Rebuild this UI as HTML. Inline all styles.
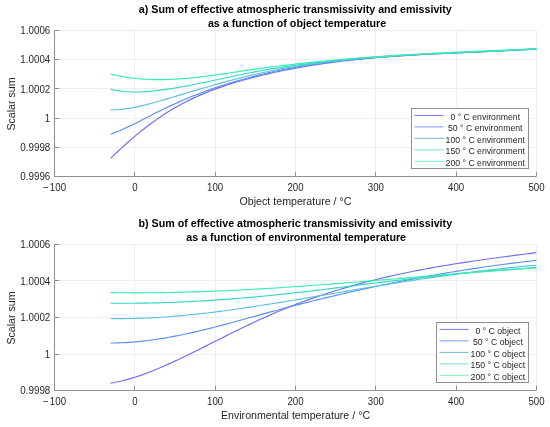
<!DOCTYPE html>
<html><head><meta charset="utf-8"><style>
html,body{margin:0;padding:0;background:#fff;}
svg text{font-family:"Liberation Sans",Arial,Helvetica,sans-serif;}
</style></head><body>
<svg width="550" height="427" viewBox="0 0 550 427" style="display:block">
<rect width="550" height="427" fill="#fff"/>
<path d="M54.5,30.5V176.5M134.5,30.5V176.5M215.5,30.5V176.5M295.5,30.5V176.5M375.5,30.5V176.5M456.5,30.5V176.5M536.5,30.5V176.5M54.5,176.5H536.5M54.5,147.5H536.5M54.5,118.5H536.5M54.5,88.5H536.5M54.5,59.5H536.5M54.5,30.5H536.5" stroke="#eeeeee" stroke-width="1" fill="none"/>
<path d="M110.60,158.33 L114.18,154.89 L117.75,151.51 L121.33,148.19 L124.91,144.95 L128.49,141.77 L132.06,138.67 L135.64,135.64 L139.22,132.68 L142.80,129.81 L146.37,127.01 L149.95,124.30 L153.53,121.67 L157.11,119.13 L160.68,116.67 L164.26,114.31 L167.84,112.03 L171.41,109.85 L174.99,107.74 L178.57,105.72 L182.15,103.78 L185.72,101.91 L189.30,100.12 L192.88,98.39 L196.46,96.74 L200.03,95.15 L203.61,93.63 L207.19,92.16 L210.76,90.75 L214.34,89.40 L217.92,88.09 L221.50,86.84 L225.07,85.63 L228.65,84.47 L232.23,83.35 L235.81,82.27 L239.38,81.22 L242.96,80.21 L246.54,79.22 L250.12,78.27 L253.69,77.34 L257.27,76.43 L260.85,75.55 L264.42,74.69 L268.00,73.86 L271.58,73.04 L275.16,72.26 L278.73,71.49 L282.31,70.74 L285.89,70.02 L289.47,69.32 L293.04,68.64 L296.62,67.98 L300.20,67.34 L303.77,66.72 L307.35,66.11 L310.93,65.53 L314.51,64.96 L318.08,64.42 L321.66,63.89 L325.24,63.37 L328.82,62.88 L332.39,62.40 L335.97,61.93 L339.55,61.48 L343.13,61.05 L346.70,60.63 L350.28,60.23 L353.86,59.84 L357.43,59.46 L361.01,59.10 L364.59,58.75 L368.17,58.41 L371.74,58.08 L375.32,57.76 L378.90,57.46 L382.48,57.17 L386.05,56.88 L389.63,56.61 L393.21,56.34 L396.78,56.09 L400.36,55.84 L403.94,55.60 L407.52,55.37 L411.09,55.15 L414.67,54.94 L418.25,54.73 L421.83,54.53 L425.40,54.33 L428.98,54.14 L432.56,53.95 L436.14,53.77 L439.71,53.59 L443.29,53.42 L446.87,53.25 L450.44,53.08 L454.02,52.92 L457.60,52.76 L461.18,52.60 L464.75,52.44 L468.33,52.29 L471.91,52.13 L475.49,51.97 L479.06,51.82 L482.64,51.66 L486.22,51.50 L489.79,51.35 L493.37,51.19 L496.95,51.02 L500.53,50.86 L504.10,50.69 L507.68,50.52 L511.26,50.35 L514.84,50.17 L518.41,49.98 L521.99,49.80 L525.57,49.60 L529.15,49.40 L532.72,49.20 L536.30,48.99" stroke="#6e6ef2" stroke-width="1.15" fill="none"/>
<path d="M110.60,134.24 L114.18,132.90 L117.75,131.46 L121.33,129.94 L124.91,128.34 L128.49,126.68 L132.06,124.97 L135.64,123.21 L139.22,121.42 L142.80,119.60 L146.37,117.77 L149.95,115.93 L153.53,114.10 L157.11,112.29 L160.68,110.50 L164.26,108.75 L167.84,107.03 L171.41,105.36 L174.99,103.72 L178.57,102.12 L182.15,100.56 L185.72,99.04 L189.30,97.55 L192.88,96.09 L196.46,94.68 L200.03,93.29 L203.61,91.94 L207.19,90.62 L210.76,89.34 L214.34,88.09 L217.92,86.87 L221.50,85.68 L225.07,84.53 L228.65,83.40 L232.23,82.30 L235.81,81.23 L239.38,80.20 L242.96,79.18 L246.54,78.20 L250.12,77.25 L253.69,76.32 L257.27,75.41 L260.85,74.54 L264.42,73.69 L268.00,72.86 L271.58,72.06 L275.16,71.28 L278.73,70.52 L282.31,69.79 L285.89,69.08 L289.47,68.39 L293.04,67.73 L296.62,67.09 L300.20,66.46 L303.77,65.86 L307.35,65.28 L310.93,64.71 L314.51,64.17 L318.08,63.64 L321.66,63.14 L325.24,62.65 L328.82,62.17 L332.39,61.72 L335.97,61.28 L339.55,60.85 L343.13,60.45 L346.70,60.05 L350.28,59.67 L353.86,59.31 L357.43,58.96 L361.01,58.62 L364.59,58.29 L368.17,57.98 L371.74,57.68 L375.32,57.39 L378.90,57.11 L382.48,56.85 L386.05,56.59 L389.63,56.34 L393.21,56.10 L396.78,55.87 L400.36,55.65 L403.94,55.43 L407.52,55.23 L411.09,55.03 L414.67,54.83 L418.25,54.64 L421.83,54.46 L425.40,54.28 L428.98,54.11 L432.56,53.94 L436.14,53.78 L439.71,53.62 L443.29,53.46 L446.87,53.30 L450.44,53.15 L454.02,53.00 L457.60,52.85 L461.18,52.70 L464.75,52.55 L468.33,52.39 L471.91,52.24 L475.49,52.09 L479.06,51.94 L482.64,51.78 L486.22,51.62 L489.79,51.46 L493.37,51.29 L496.95,51.12 L500.53,50.95 L504.10,50.77 L507.68,50.59 L511.26,50.40 L514.84,50.20 L518.41,50.00 L521.99,49.79 L525.57,49.58 L529.15,49.35 L532.72,49.12 L536.30,48.88" stroke="#5a8ef0" stroke-width="1.15" fill="none"/>
<path d="M110.60,109.84 L114.18,109.80 L117.75,109.62 L121.33,109.33 L124.91,108.92 L128.49,108.41 L132.06,107.81 L135.64,107.12 L139.22,106.35 L142.80,105.52 L146.37,104.63 L149.95,103.69 L153.53,102.71 L157.11,101.71 L160.68,100.68 L164.26,99.64 L167.84,98.59 L171.41,97.54 L174.99,96.48 L178.57,95.42 L182.15,94.36 L185.72,93.29 L189.30,92.23 L192.88,91.17 L196.46,90.11 L200.03,89.05 L203.61,88.00 L207.19,86.96 L210.76,85.93 L214.34,84.90 L217.92,83.89 L221.50,82.88 L225.07,81.89 L228.65,80.92 L232.23,79.96 L235.81,79.02 L239.38,78.09 L242.96,77.19 L246.54,76.30 L250.12,75.44 L253.69,74.60 L257.27,73.79 L260.85,72.99 L264.42,72.22 L268.00,71.47 L271.58,70.75 L275.16,70.04 L278.73,69.35 L282.31,68.69 L285.89,68.04 L289.47,67.41 L293.04,66.81 L296.62,66.22 L300.20,65.65 L303.77,65.09 L307.35,64.56 L310.93,64.04 L314.51,63.54 L318.08,63.06 L321.66,62.59 L325.24,62.13 L328.82,61.69 L332.39,61.27 L335.97,60.86 L339.55,60.47 L343.13,60.09 L346.70,59.72 L350.28,59.36 L353.86,59.02 L357.43,58.69 L361.01,58.37 L364.59,58.06 L368.17,57.76 L371.74,57.48 L375.32,57.20 L378.90,56.93 L382.48,56.68 L386.05,56.43 L389.63,56.19 L393.21,55.96 L396.78,55.73 L400.36,55.51 L403.94,55.30 L407.52,55.10 L411.09,54.90 L414.67,54.71 L418.25,54.53 L421.83,54.35 L425.40,54.17 L428.98,54.00 L432.56,53.83 L436.14,53.67 L439.71,53.50 L443.29,53.35 L446.87,53.19 L450.44,53.03 L454.02,52.88 L457.60,52.73 L461.18,52.58 L464.75,52.43 L468.33,52.28 L471.91,52.12 L475.49,51.97 L479.06,51.82 L482.64,51.66 L486.22,51.51 L489.79,51.35 L493.37,51.18 L496.95,51.02 L500.53,50.85 L504.10,50.68 L507.68,50.50 L511.26,50.32 L514.84,50.13 L518.41,49.94 L521.99,49.74 L525.57,49.54 L529.15,49.32 L532.72,49.11 L536.30,48.88" stroke="#5cc0e0" stroke-width="1.15" fill="none"/>
<path d="M110.60,89.34 L114.18,90.07 L117.75,90.67 L121.33,91.15 L124.91,91.51 L128.49,91.76 L132.06,91.90 L135.64,91.95 L139.22,91.91 L142.80,91.78 L146.37,91.58 L149.95,91.31 L153.53,90.98 L157.11,90.59 L160.68,90.15 L164.26,89.67 L167.84,89.15 L171.41,88.60 L174.99,88.02 L178.57,87.42 L182.15,86.78 L185.72,86.13 L189.30,85.45 L192.88,84.76 L196.46,84.04 L200.03,83.31 L203.61,82.57 L207.19,81.82 L210.76,81.06 L214.34,80.30 L217.92,79.53 L221.50,78.76 L225.07,77.99 L228.65,77.22 L232.23,76.45 L235.81,75.70 L239.38,74.95 L242.96,74.21 L246.54,73.49 L250.12,72.78 L253.69,72.09 L257.27,71.42 L260.85,70.77 L264.42,70.13 L268.00,69.51 L271.58,68.90 L275.16,68.31 L278.73,67.74 L282.31,67.18 L285.89,66.64 L289.47,66.11 L293.04,65.59 L296.62,65.09 L300.20,64.61 L303.77,64.14 L307.35,63.68 L310.93,63.23 L314.51,62.80 L318.08,62.38 L321.66,61.97 L325.24,61.57 L328.82,61.19 L332.39,60.81 L335.97,60.45 L339.55,60.10 L343.13,59.76 L346.70,59.43 L350.28,59.11 L353.86,58.79 L357.43,58.49 L361.01,58.20 L364.59,57.91 L368.17,57.64 L371.74,57.37 L375.32,57.11 L378.90,56.86 L382.48,56.61 L386.05,56.37 L389.63,56.14 L393.21,55.91 L396.78,55.69 L400.36,55.48 L403.94,55.27 L407.52,55.07 L411.09,54.87 L414.67,54.68 L418.25,54.49 L421.83,54.30 L425.40,54.12 L428.98,53.94 L432.56,53.77 L436.14,53.60 L439.71,53.43 L443.29,53.26 L446.87,53.10 L450.44,52.93 L454.02,52.77 L457.60,52.61 L461.18,52.45 L464.75,52.29 L468.33,52.14 L471.91,51.98 L475.49,51.82 L479.06,51.66 L482.64,51.50 L486.22,51.34 L489.79,51.17 L493.37,51.01 L496.95,50.84 L500.53,50.67 L504.10,50.50 L507.68,50.32 L511.26,50.15 L514.84,49.96 L518.41,49.78 L521.99,49.59 L525.57,49.40 L529.15,49.20 L532.72,48.99 L536.30,48.78" stroke="#34d6c6" stroke-width="1.15" fill="none"/>
<path d="M110.60,74.07 L114.18,74.92 L117.75,75.69 L121.33,76.39 L124.91,77.01 L128.49,77.56 L132.06,78.04 L135.64,78.45 L139.22,78.79 L142.80,79.08 L146.37,79.30 L149.95,79.46 L153.53,79.57 L157.11,79.62 L160.68,79.62 L164.26,79.58 L167.84,79.48 L171.41,79.34 L174.99,79.16 L178.57,78.94 L182.15,78.69 L185.72,78.40 L189.30,78.07 L192.88,77.72 L196.46,77.33 L200.03,76.93 L203.61,76.49 L207.19,76.04 L210.76,75.57 L214.34,75.08 L217.92,74.58 L221.50,74.07 L225.07,73.55 L228.65,73.02 L232.23,72.49 L235.81,71.96 L239.38,71.42 L242.96,70.89 L246.54,70.37 L250.12,69.85 L253.69,69.34 L257.27,68.84 L260.85,68.35 L264.42,67.86 L268.00,67.39 L271.58,66.93 L275.16,66.47 L278.73,66.03 L282.31,65.59 L285.89,65.16 L289.47,64.74 L293.04,64.33 L296.62,63.93 L300.20,63.53 L303.77,63.14 L307.35,62.76 L310.93,62.39 L314.51,62.02 L318.08,61.67 L321.66,61.32 L325.24,60.97 L328.82,60.64 L332.39,60.31 L335.97,59.98 L339.55,59.67 L343.13,59.36 L346.70,59.06 L350.28,58.76 L353.86,58.47 L357.43,58.18 L361.01,57.90 L364.59,57.63 L368.17,57.36 L371.74,57.10 L375.32,56.84 L378.90,56.59 L382.48,56.35 L386.05,56.10 L389.63,55.87 L393.21,55.64 L396.78,55.41 L400.36,55.19 L403.94,54.97 L407.52,54.75 L411.09,54.54 L414.67,54.34 L418.25,54.13 L421.83,53.94 L425.40,53.74 L428.98,53.55 L432.56,53.36 L436.14,53.18 L439.71,52.99 L443.29,52.82 L446.87,52.64 L450.44,52.47 L454.02,52.30 L457.60,52.13 L461.18,51.96 L464.75,51.80 L468.33,51.64 L471.91,51.48 L475.49,51.32 L479.06,51.17 L482.64,51.01 L486.22,50.86 L489.79,50.71 L493.37,50.56 L496.95,50.41 L500.53,50.26 L504.10,50.11 L507.68,49.97 L511.26,49.82 L514.84,49.68 L518.41,49.53 L521.99,49.39 L525.57,49.24 L529.15,49.10 L532.72,48.95 L536.30,48.81" stroke="#34eeb2" stroke-width="1.15" fill="none"/>
<path d="M54.5,30.5V176.5H536.5M54.5,176.5v-4.8M134.5,176.5v-4.8M215.5,176.5v-4.8M295.5,176.5v-4.8M375.5,176.5v-4.8M456.5,176.5v-4.8M536.5,176.5v-4.8M54.5,176.5h4.8M54.5,147.5h4.8M54.5,118.5h4.8M54.5,88.5h4.8M54.5,59.5h4.8M54.5,30.5h4.8" stroke="#8f8f8f" stroke-width="1" fill="none"/>
<text transform="translate(50.3,180.10) scale(0.98,1)" text-anchor="end" font-size="10.0" fill="#262626">0.9996</text>
<text transform="translate(50.3,150.90) scale(0.98,1)" text-anchor="end" font-size="10.0" fill="#262626">0.9998</text>
<text transform="translate(50.3,121.70) scale(0.98,1)" text-anchor="end" font-size="10.0" fill="#262626">1</text>
<text transform="translate(50.3,92.50) scale(0.98,1)" text-anchor="end" font-size="10.0" fill="#262626">1.0002</text>
<text transform="translate(50.3,63.30) scale(0.98,1)" text-anchor="end" font-size="10.0" fill="#262626">1.0004</text>
<text transform="translate(50.3,34.10) scale(0.98,1)" text-anchor="end" font-size="10.0" fill="#262626">1.0006</text>
<text transform="translate(54.50,190.60) scale(0.94,1)" text-anchor="middle" font-size="10.3" fill="#262626">−<tspan dx="1.3">100</tspan></text>
<text transform="translate(134.83,190.60) scale(0.94,1)" text-anchor="middle" font-size="10.3" fill="#262626">0</text>
<text transform="translate(215.17,190.60) scale(0.94,1)" text-anchor="middle" font-size="10.3" fill="#262626">100</text>
<text transform="translate(295.50,190.60) scale(0.94,1)" text-anchor="middle" font-size="10.3" fill="#262626">200</text>
<text transform="translate(375.83,190.60) scale(0.94,1)" text-anchor="middle" font-size="10.3" fill="#262626">300</text>
<text transform="translate(456.17,190.60) scale(0.94,1)" text-anchor="middle" font-size="10.3" fill="#262626">400</text>
<text transform="translate(536.50,190.60) scale(0.94,1)" text-anchor="middle" font-size="10.3" fill="#262626">500</text>
<text x="295.50" y="204.80" text-anchor="middle" font-size="10.65" fill="#262626">Object temperature / °C</text>
<text transform="translate(14.8,104.00) rotate(-90)" text-anchor="middle" font-size="10.65" fill="#262626">Scalar sum</text>
<text x="295.30" y="12.70" text-anchor="middle" font-size="10.7" font-weight="bold" fill="#000">a) Sum of effective atmospheric transmissivity and emissivity</text>
<text x="297.00" y="26.60" text-anchor="middle" font-size="10.7" font-weight="bold" fill="#000">as a function of object temperature</text>
<rect x="411.5" y="108.5" width="117.0" height="60.0" fill="#fff" stroke="#8f8f8f" stroke-width="1"/>
<path d="M414.5,115.4h29" stroke="#7575ff" stroke-width="1"/>
<text transform="translate(450.44,119.70) scale(0.9467391304347827,1)" font-size="9.2" fill="#262626">0 ° C environment</text>
<path d="M414.5,126.9h29" stroke="#7598ee" stroke-width="1"/>
<text transform="translate(448.02,131.20) scale(0.9467391304347827,1)" font-size="9.2" fill="#262626">50 ° C environment</text>
<path d="M414.5,138.4h29" stroke="#75badc" stroke-width="1"/>
<text transform="translate(445.60,142.70) scale(0.9467391304347827,1)" font-size="9.2" fill="#262626">100 ° C environment</text>
<path d="M414.5,149.9h29" stroke="#75dccb" stroke-width="1"/>
<text transform="translate(445.60,154.20) scale(0.9467391304347827,1)" font-size="9.2" fill="#262626">150 ° C environment</text>
<path d="M414.5,161.4h29" stroke="#75ffba" stroke-width="1"/>
<text transform="translate(445.60,165.70) scale(0.9467391304347827,1)" font-size="9.2" fill="#262626">200 ° C environment</text>
<path d="M54.5,244.5V390.5M134.5,244.5V390.5M215.5,244.5V390.5M295.5,244.5V390.5M375.5,244.5V390.5M456.5,244.5V390.5M536.5,244.5V390.5M54.5,390.5H536.5M54.5,354.5H536.5M54.5,317.5H536.5M54.5,280.5H536.5M54.5,244.5H536.5" stroke="#eeeeee" stroke-width="1" fill="none"/>
<path d="M110.60,383.11 L114.18,382.50 L117.75,381.79 L121.33,381.00 L124.91,380.12 L128.49,379.16 L132.06,378.12 L135.64,377.01 L139.22,375.84 L142.80,374.60 L146.37,373.29 L149.95,371.93 L153.53,370.52 L157.11,369.05 L160.68,367.54 L164.26,365.99 L167.84,364.39 L171.41,362.76 L174.99,361.11 L178.57,359.42 L182.15,357.71 L185.72,355.98 L189.30,354.23 L192.88,352.47 L196.46,350.70 L200.03,348.92 L203.61,347.13 L207.19,345.34 L210.76,343.55 L214.34,341.75 L217.92,339.95 L221.50,338.16 L225.07,336.37 L228.65,334.59 L232.23,332.81 L235.81,331.05 L239.38,329.29 L242.96,327.55 L246.54,325.82 L250.12,324.11 L253.69,322.42 L257.27,320.75 L260.85,319.10 L264.42,317.48 L268.00,315.88 L271.58,314.31 L275.16,312.77 L278.73,311.25 L282.31,309.77 L285.89,308.31 L289.47,306.88 L293.04,305.47 L296.62,304.10 L300.20,302.74 L303.77,301.42 L307.35,300.12 L310.93,298.84 L314.51,297.59 L318.08,296.36 L321.66,295.16 L325.24,293.98 L328.82,292.82 L332.39,291.69 L335.97,290.57 L339.55,289.48 L343.13,288.42 L346.70,287.37 L350.28,286.34 L353.86,285.34 L357.43,284.35 L361.01,283.39 L364.59,282.44 L368.17,281.51 L371.74,280.60 L375.32,279.71 L378.90,278.84 L382.48,277.99 L386.05,277.15 L389.63,276.33 L393.21,275.53 L396.78,274.74 L400.36,273.97 L403.94,273.21 L407.52,272.47 L411.09,271.74 L414.67,271.03 L418.25,270.33 L421.83,269.65 L425.40,268.97 L428.98,268.31 L432.56,267.67 L436.14,267.03 L439.71,266.41 L443.29,265.80 L446.87,265.20 L450.44,264.61 L454.02,264.03 L457.60,263.46 L461.18,262.90 L464.75,262.35 L468.33,261.81 L471.91,261.27 L475.49,260.75 L479.06,260.23 L482.64,259.72 L486.22,259.22 L489.79,258.72 L493.37,258.23 L496.95,257.74 L500.53,257.26 L504.10,256.79 L507.68,256.32 L511.26,255.85 L514.84,255.39 L518.41,254.94 L521.99,254.48 L525.57,254.03 L529.15,253.58 L532.72,253.14 L536.30,252.69" stroke="#6e6ef2" stroke-width="1.15" fill="none"/>
<path d="M110.60,342.99 L114.18,342.95 L117.75,342.88 L121.33,342.75 L124.91,342.58 L128.49,342.37 L132.06,342.12 L135.64,341.82 L139.22,341.48 L142.80,341.11 L146.37,340.70 L149.95,340.25 L153.53,339.76 L157.11,339.24 L160.68,338.69 L164.26,338.10 L167.84,337.49 L171.41,336.84 L174.99,336.17 L178.57,335.47 L182.15,334.74 L185.72,333.99 L189.30,333.21 L192.88,332.41 L196.46,331.59 L200.03,330.75 L203.61,329.88 L207.19,329.01 L210.76,328.11 L214.34,327.20 L217.92,326.28 L221.50,325.34 L225.07,324.40 L228.65,323.44 L232.23,322.47 L235.81,321.50 L239.38,320.52 L242.96,319.54 L246.54,318.55 L250.12,317.57 L253.69,316.58 L257.27,315.59 L260.85,314.60 L264.42,313.62 L268.00,312.64 L271.58,311.67 L275.16,310.71 L278.73,309.75 L282.31,308.80 L285.89,307.85 L289.47,306.92 L293.04,305.99 L296.62,305.06 L300.20,304.15 L303.77,303.24 L307.35,302.33 L310.93,301.44 L314.51,300.55 L318.08,299.67 L321.66,298.79 L325.24,297.93 L328.82,297.07 L332.39,296.21 L335.97,295.37 L339.55,294.53 L343.13,293.70 L346.70,292.87 L350.28,292.06 L353.86,291.25 L357.43,290.45 L361.01,289.65 L364.59,288.87 L368.17,288.09 L371.74,287.31 L375.32,286.55 L378.90,285.79 L382.48,285.04 L386.05,284.30 L389.63,283.57 L393.21,282.84 L396.78,282.12 L400.36,281.41 L403.94,280.71 L407.52,280.01 L411.09,279.33 L414.67,278.65 L418.25,277.98 L421.83,277.31 L425.40,276.66 L428.98,276.01 L432.56,275.37 L436.14,274.74 L439.71,274.11 L443.29,273.50 L446.87,272.89 L450.44,272.29 L454.02,271.70 L457.60,271.11 L461.18,270.54 L464.75,269.97 L468.33,269.41 L471.91,268.86 L475.49,268.32 L479.06,267.79 L482.64,267.26 L486.22,266.75 L489.79,266.24 L493.37,265.74 L496.95,265.25 L500.53,264.76 L504.10,264.29 L507.68,263.82 L511.26,263.36 L514.84,262.92 L518.41,262.48 L521.99,262.04 L525.57,261.62 L529.15,261.21 L532.72,260.80 L536.30,260.41" stroke="#5a8ef0" stroke-width="1.15" fill="none"/>
<path d="M110.60,318.51 L114.18,318.56 L117.75,318.58 L121.33,318.59 L124.91,318.56 L128.49,318.52 L132.06,318.46 L135.64,318.38 L139.22,318.27 L142.80,318.15 L146.37,318.00 L149.95,317.84 L153.53,317.66 L157.11,317.46 L160.68,317.24 L164.26,317.00 L167.84,316.75 L171.41,316.48 L174.99,316.19 L178.57,315.89 L182.15,315.57 L185.72,315.24 L189.30,314.89 L192.88,314.53 L196.46,314.15 L200.03,313.77 L203.61,313.36 L207.19,312.95 L210.76,312.52 L214.34,312.08 L217.92,311.63 L221.50,311.17 L225.07,310.70 L228.65,310.22 L232.23,309.73 L235.81,309.23 L239.38,308.72 L242.96,308.20 L246.54,307.67 L250.12,307.14 L253.69,306.60 L257.27,306.05 L260.85,305.49 L264.42,304.93 L268.00,304.37 L271.58,303.80 L275.16,303.22 L278.73,302.64 L282.31,302.06 L285.89,301.47 L289.47,300.87 L293.04,300.28 L296.62,299.68 L300.20,299.08 L303.77,298.47 L307.35,297.87 L310.93,297.26 L314.51,296.65 L318.08,296.04 L321.66,295.43 L325.24,294.81 L328.82,294.20 L332.39,293.59 L335.97,292.97 L339.55,292.36 L343.13,291.75 L346.70,291.14 L350.28,290.53 L353.86,289.92 L357.43,289.31 L361.01,288.71 L364.59,288.11 L368.17,287.51 L371.74,286.91 L375.32,286.32 L378.90,285.73 L382.48,285.14 L386.05,284.56 L389.63,283.98 L393.21,283.41 L396.78,282.84 L400.36,282.27 L403.94,281.71 L407.52,281.16 L411.09,280.60 L414.67,280.06 L418.25,279.51 L421.83,278.98 L425.40,278.45 L428.98,277.92 L432.56,277.40 L436.14,276.88 L439.71,276.37 L443.29,275.87 L446.87,275.37 L450.44,274.88 L454.02,274.40 L457.60,273.92 L461.18,273.44 L464.75,272.98 L468.33,272.52 L471.91,272.07 L475.49,271.62 L479.06,271.18 L482.64,270.75 L486.22,270.33 L489.79,269.91 L493.37,269.50 L496.95,269.10 L500.53,268.71 L504.10,268.32 L507.68,267.94 L511.26,267.57 L514.84,267.21 L518.41,266.86 L521.99,266.52 L525.57,266.18 L529.15,265.85 L532.72,265.54 L536.30,265.23" stroke="#5cc0e0" stroke-width="1.15" fill="none"/>
<path d="M110.60,303.20 L114.18,303.23 L117.75,303.26 L121.33,303.27 L124.91,303.27 L128.49,303.26 L132.06,303.24 L135.64,303.21 L139.22,303.17 L142.80,303.12 L146.37,303.06 L149.95,302.99 L153.53,302.91 L157.11,302.82 L160.68,302.73 L164.26,302.62 L167.84,302.50 L171.41,302.37 L174.99,302.24 L178.57,302.09 L182.15,301.94 L185.72,301.78 L189.30,301.60 L192.88,301.42 L196.46,301.23 L200.03,301.03 L203.61,300.83 L207.19,300.61 L210.76,300.39 L214.34,300.15 L217.92,299.91 L221.50,299.66 L225.07,299.41 L228.65,299.14 L232.23,298.87 L235.81,298.58 L239.38,298.29 L242.96,298.00 L246.54,297.69 L250.12,297.38 L253.69,297.06 L257.27,296.73 L260.85,296.39 L264.42,296.05 L268.00,295.70 L271.58,295.34 L275.16,294.97 L278.73,294.60 L282.31,294.22 L285.89,293.84 L289.47,293.45 L293.04,293.05 L296.62,292.65 L300.20,292.24 L303.77,291.83 L307.35,291.41 L310.93,290.99 L314.51,290.57 L318.08,290.14 L321.66,289.71 L325.24,289.27 L328.82,288.83 L332.39,288.39 L335.97,287.94 L339.55,287.50 L343.13,287.05 L346.70,286.60 L350.28,286.15 L353.86,285.70 L357.43,285.25 L361.01,284.80 L364.59,284.35 L368.17,283.90 L371.74,283.45 L375.32,283.01 L378.90,282.56 L382.48,282.12 L386.05,281.68 L389.63,281.24 L393.21,280.81 L396.78,280.38 L400.36,279.95 L403.94,279.53 L407.52,279.12 L411.09,278.71 L414.67,278.30 L418.25,277.90 L421.83,277.51 L425.40,277.12 L428.98,276.73 L432.56,276.35 L436.14,275.98 L439.71,275.61 L443.29,275.25 L446.87,274.89 L450.44,274.54 L454.02,274.19 L457.60,273.85 L461.18,273.51 L464.75,273.18 L468.33,272.85 L471.91,272.53 L475.49,272.22 L479.06,271.90 L482.64,271.60 L486.22,271.30 L489.79,271.00 L493.37,270.71 L496.95,270.43 L500.53,270.14 L504.10,269.87 L507.68,269.60 L511.26,269.33 L514.84,269.07 L518.41,268.82 L521.99,268.56 L525.57,268.32 L529.15,268.08 L532.72,267.84 L536.30,267.61" stroke="#34d6c6" stroke-width="1.15" fill="none"/>
<path d="M110.60,292.61 L114.18,292.66 L117.75,292.71 L121.33,292.75 L124.91,292.78 L128.49,292.80 L132.06,292.82 L135.64,292.82 L139.22,292.82 L142.80,292.82 L146.37,292.80 L149.95,292.78 L153.53,292.74 L157.11,292.71 L160.68,292.66 L164.26,292.61 L167.84,292.55 L171.41,292.48 L174.99,292.41 L178.57,292.32 L182.15,292.24 L185.72,292.14 L189.30,292.04 L192.88,291.94 L196.46,291.82 L200.03,291.71 L203.61,291.58 L207.19,291.45 L210.76,291.31 L214.34,291.17 L217.92,291.02 L221.50,290.87 L225.07,290.71 L228.65,290.55 L232.23,290.38 L235.81,290.20 L239.38,290.02 L242.96,289.84 L246.54,289.65 L250.12,289.46 L253.69,289.26 L257.27,289.06 L260.85,288.85 L264.42,288.64 L268.00,288.42 L271.58,288.20 L275.16,287.98 L278.73,287.75 L282.31,287.52 L285.89,287.28 L289.47,287.05 L293.04,286.80 L296.62,286.56 L300.20,286.31 L303.77,286.06 L307.35,285.80 L310.93,285.54 L314.51,285.28 L318.08,285.02 L321.66,284.75 L325.24,284.49 L328.82,284.21 L332.39,283.94 L335.97,283.67 L339.55,283.39 L343.13,283.11 L346.70,282.83 L350.28,282.54 L353.86,282.26 L357.43,281.97 L361.01,281.68 L364.59,281.39 L368.17,281.10 L371.74,280.81 L375.32,280.52 L378.90,280.22 L382.48,279.93 L386.05,279.63 L389.63,279.33 L393.21,279.03 L396.78,278.74 L400.36,278.44 L403.94,278.14 L407.52,277.84 L411.09,277.54 L414.67,277.24 L418.25,276.94 L421.83,276.65 L425.40,276.35 L428.98,276.05 L432.56,275.75 L436.14,275.46 L439.71,275.16 L443.29,274.86 L446.87,274.57 L450.44,274.28 L454.02,273.98 L457.60,273.69 L461.18,273.40 L464.75,273.12 L468.33,272.83 L471.91,272.54 L475.49,272.26 L479.06,271.98 L482.64,271.70 L486.22,271.42 L489.79,271.15 L493.37,270.88 L496.95,270.61 L500.53,270.34 L504.10,270.07 L507.68,269.81 L511.26,269.55 L514.84,269.29 L518.41,269.04 L521.99,268.79 L525.57,268.54 L529.15,268.29 L532.72,268.05 L536.30,267.82" stroke="#34eeb2" stroke-width="1.15" fill="none"/>
<path d="M54.5,244.5V390.5H536.5M54.5,390.5v-4.8M134.5,390.5v-4.8M215.5,390.5v-4.8M295.5,390.5v-4.8M375.5,390.5v-4.8M456.5,390.5v-4.8M536.5,390.5v-4.8M54.5,390.5h4.8M54.5,354.5h4.8M54.5,317.5h4.8M54.5,280.5h4.8M54.5,244.5h4.8" stroke="#8f8f8f" stroke-width="1" fill="none"/>
<text transform="translate(50.3,394.10) scale(0.98,1)" text-anchor="end" font-size="10.0" fill="#262626">0.9998</text>
<text transform="translate(50.3,357.60) scale(0.98,1)" text-anchor="end" font-size="10.0" fill="#262626">1</text>
<text transform="translate(50.3,321.10) scale(0.98,1)" text-anchor="end" font-size="10.0" fill="#262626">1.0002</text>
<text transform="translate(50.3,284.60) scale(0.98,1)" text-anchor="end" font-size="10.0" fill="#262626">1.0004</text>
<text transform="translate(50.3,248.10) scale(0.98,1)" text-anchor="end" font-size="10.0" fill="#262626">1.0006</text>
<text transform="translate(54.50,404.60) scale(0.94,1)" text-anchor="middle" font-size="10.3" fill="#262626">−<tspan dx="1.3">100</tspan></text>
<text transform="translate(134.83,404.60) scale(0.94,1)" text-anchor="middle" font-size="10.3" fill="#262626">0</text>
<text transform="translate(215.17,404.60) scale(0.94,1)" text-anchor="middle" font-size="10.3" fill="#262626">100</text>
<text transform="translate(295.50,404.60) scale(0.94,1)" text-anchor="middle" font-size="10.3" fill="#262626">200</text>
<text transform="translate(375.83,404.60) scale(0.94,1)" text-anchor="middle" font-size="10.3" fill="#262626">300</text>
<text transform="translate(456.17,404.60) scale(0.94,1)" text-anchor="middle" font-size="10.3" fill="#262626">400</text>
<text transform="translate(536.50,404.60) scale(0.94,1)" text-anchor="middle" font-size="10.3" fill="#262626">500</text>
<text x="295.50" y="419.30" text-anchor="middle" font-size="10.65" fill="#262626">Environmental temperature / °C</text>
<text transform="translate(14.8,318.00) rotate(-90)" text-anchor="middle" font-size="10.65" fill="#262626">Scalar sum</text>
<text x="295.30" y="226.70" text-anchor="middle" font-size="10.7" font-weight="bold" fill="#000">b) Sum of effective atmospheric transmissivity and emissivity</text>
<text x="296.20" y="240.60" text-anchor="middle" font-size="10.7" font-weight="bold" fill="#000">as a function of environmental temperature</text>
<rect x="436.5" y="322.5" width="92.0" height="60.0" fill="#fff" stroke="#8f8f8f" stroke-width="1"/>
<path d="M439.5,329.4h29" stroke="#7575ff" stroke-width="1"/>
<text transform="translate(475.44,333.70) scale(0.9467391304347827,1)" font-size="9.2" fill="#262626">0 ° C object</text>
<path d="M439.5,340.9h29" stroke="#7598ee" stroke-width="1"/>
<text transform="translate(473.02,345.20) scale(0.9467391304347827,1)" font-size="9.2" fill="#262626">50 ° C object</text>
<path d="M439.5,352.4h29" stroke="#75badc" stroke-width="1"/>
<text transform="translate(470.60,356.70) scale(0.9467391304347827,1)" font-size="9.2" fill="#262626">100 ° C object</text>
<path d="M439.5,363.9h29" stroke="#75dccb" stroke-width="1"/>
<text transform="translate(470.60,368.20) scale(0.9467391304347827,1)" font-size="9.2" fill="#262626">150 ° C object</text>
<path d="M439.5,375.4h29" stroke="#75ffba" stroke-width="1"/>
<text transform="translate(470.60,379.70) scale(0.9467391304347827,1)" font-size="9.2" fill="#262626">200 ° C object</text>
</svg>
</body></html>
